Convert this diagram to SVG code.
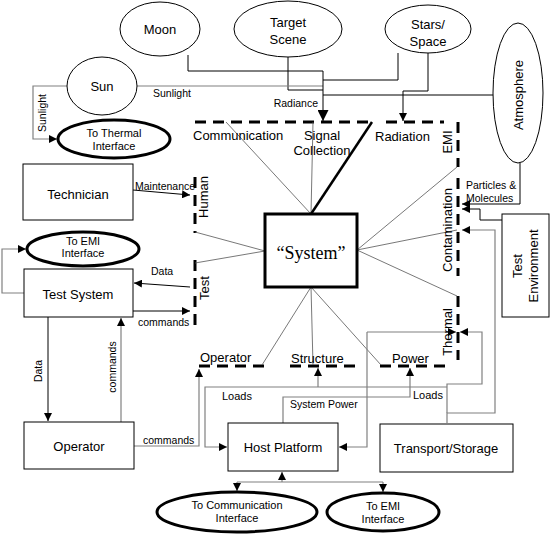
<svg xmlns="http://www.w3.org/2000/svg" width="551" height="534" viewBox="0 0 551 534">
<defs>
<style>
text{font-family:"Liberation Sans",Arial,sans-serif;fill:#000}
.t13{font-size:13px}
.t11{font-size:11px}
.t10{font-size:10.5px}
.m{text-anchor:middle}
.box{fill:#fff;stroke:#000;stroke-width:1}
.ell{fill:#fff;stroke:#000;stroke-width:1}
.tell{fill:#fff;stroke:#000;stroke-width:3}
.ln{fill:none;stroke:#000;stroke-width:1}
.gl{fill:none;stroke:#808080;stroke-width:1.2}
.rad{fill:none;stroke:#555;stroke-width:0.8}
.dash{fill:none;stroke:#000;stroke-width:3;stroke-dasharray:11,7}
</style>
<marker id="a" viewBox="0 0 10 10" refX="10" refY="5" markerWidth="8" markerHeight="8" markerUnits="userSpaceOnUse" orient="auto"><path d="M0,0L10,5L0,10z" fill="#000"/></marker>
<marker id="b" viewBox="0 0 10 10" refX="10" refY="5" markerWidth="11" markerHeight="11" markerUnits="userSpaceOnUse" orient="auto"><path d="M0,0L10,5L0,10z" fill="#000"/></marker>
</defs>
<rect width="551" height="534" fill="#fff"/>

<g id="connectors">
<!-- top sources -->
<path class="ln" d="M188,55V71H323"/>
<path class="ln" d="M398,53V80H323"/>
<path class="ln" d="M288,57V90H323"/>
<path class="ln" d="M493,95H323"/>
<path class="gl" d="M137,86H323"/>
<path class="ln" d="M323,71V121" stroke-width="1.6" marker-end="url(#b)"/>
<path class="ln" d="M428,53V91H403V121" marker-end="url(#a)"/>
<path class="gl" d="M68,86H33V139H57" marker-end="url(#a)"/>
<!-- boundary dashes -->
<path class="dash" d="M195,122H372"/>
<path class="dash" d="M386,122H444"/>
<path class="dash" d="M458,122V167"/>
<path class="dash" d="M458,178V276"/>
<path class="dash" d="M458,296V360"/>
<path class="dash" d="M195,177V233"/>
<path class="dash" d="M195,260V327"/>
<path class="dash" d="M199,366H268"/>
<path class="dash" d="M290,366H358"/>
<path class="dash" d="M380,366H448"/>
<!-- system radial lines -->
<path class="rad" d="M226,122L311,214"/>
<path class="rad" d="M313,122L311,214"/>
<path fill="none" stroke="#000" stroke-width="2.5" d="M372,122L311,214"/>
<path class="rad" d="M357,250L457,167"/>
<path class="rad" d="M357,250L457,230"/>
<path class="rad" d="M357,250L457,296"/>
<path class="rad" d="M265,251L195,232"/>
<path class="rad" d="M265,251L195,263"/>
<path class="rad" d="M311,287L262,365"/>
<path class="rad" d="M311,287L313,365"/>
<path class="rad" d="M311,287L381,365"/>
<!-- left side -->
<path class="ln" d="M133,190L190,195" marker-end="url(#a)"/>
<path class="ln" d="M190,287L134,283" marker-end="url(#a)"/>
<path class="ln" d="M133,311H190" marker-end="url(#a)"/>
<path class="gl" d="M24,293H2V249H26" marker-end="url(#a)"/>
<path class="ln" d="M48,317V421" marker-end="url(#a)"/>
<path class="gl" d="M121,422V318" marker-end="url(#a)"/>
<path class="gl" d="M134,446H199V369" marker-end="url(#a)"/>
<!-- right side -->
<path class="ln" d="M520,163V204H462" marker-end="url(#a)"/>
<path class="ln" d="M502,220H480V209H462" marker-end="url(#a)"/>
<path class="gl" d="M447,423V413H495V230H462" marker-end="url(#a)"/>
<path class="gl" d="M447,413V384H482V332H460" marker-end="url(#a)"/>
<path class="gl" d="M367,332H456" marker-end="url(#a)"/>
<path class="gl" d="M367,332V447H339" marker-end="url(#a)"/>
<!-- loads / power -->
<path class="gl" d="M447,387H205V447H227" marker-end="url(#a)"/>
<path class="gl" d="M318,387V368" marker-end="url(#a)"/>
<path class="gl" d="M283,423V397H410V368" marker-end="url(#a)"/>
<!-- host platform to interfaces -->
<path class="gl" d="M282,482V472" marker-end="url(#a)"/>
<path class="gl" d="M237,482H383"/>
<path class="gl" d="M237,482V491" marker-end="url(#a)"/>
<path class="gl" d="M383,482V492" marker-end="url(#a)"/>
<!-- connector labels -->
<text class="t10" x="153" y="97">Sunlight</text>
<text class="t10 m" transform="translate(46,113) rotate(-90)">Sunlight</text>
<text class="t10" x="318" y="107" text-anchor="end">Radiance</text>
<text class="t10" x="135" y="190">Maintenance</text>
<text class="t10" x="151" y="275">Data</text>
<text class="t10" x="138" y="326">commands</text>
<text class="t10 m" transform="translate(42,371) rotate(-90)">Data</text>
<text class="t10 m" transform="translate(116,367) rotate(-90)">commands</text>
<text class="t10" x="143" y="444">commands</text>
<text class="t11" x="222" y="400">Loads</text>
<text class="t10" x="290" y="408">System Power</text>
<text class="t11" x="413" y="399">Loads</text>
<text class="t10" x="466" y="189">Particles &amp;</text>
<text class="t10" x="466" y="202">Molecules</text>
<!-- boundary labels -->
<text class="t13" x="193" y="140">Communication</text>
<text class="t13 m" x="322" y="140">Signal</text>
<text class="t13 m" x="322" y="155">Collection</text>
<text class="t13" x="375" y="141">Radiation</text>
<text class="t13 m" transform="translate(452,142) rotate(-90)">EMI</text>
<text class="t13 m" transform="translate(452,230) rotate(-90)">Contamination</text>
<text class="t13 m" transform="translate(452,332) rotate(-90)">Thermal</text>
<text class="t13 m" transform="translate(208,197) rotate(-90)">Human</text>
<text class="t13 m" transform="translate(209,288) rotate(-90)">Test</text>
<text class="t13" x="200" y="362">Operator</text>
<text class="t13" x="291" y="363">Structure</text>
<text class="t13" x="392" y="363">Power</text>
</g>

<g id="moon"><ellipse class="ell" cx="160" cy="29" rx="40" ry="27"/><text class="t13 m" x="160" y="34">Moon</text></g>
<g id="target-scene"><ellipse class="ell" cx="288" cy="29" rx="54" ry="28"/><text class="t13 m" x="288" y="27">Target</text><text class="t13 m" x="288" y="44">Scene</text></g>
<g id="stars-space"><ellipse class="ell" cx="428" cy="29" rx="43" ry="24"/><text class="t13 m" x="428" y="29">Stars/</text><text class="t13 m" x="428" y="46">Space</text></g>
<g id="atmosphere"><ellipse class="ell" cx="518" cy="93" rx="25" ry="70"/><text class="t13 m" transform="translate(523,95) rotate(-90)">Atmosphere</text></g>
<g id="sun"><ellipse class="ell" cx="102" cy="86" rx="35" ry="29"/><text class="t13 m" x="102" y="91">Sun</text></g>
<g id="thermal-interface"><ellipse class="tell" cx="114" cy="139" rx="56" ry="19"/><text class="t11 m" x="114" y="137">To Thermal</text><text class="t11 m" x="114" y="150">Interface</text></g>
<g id="technician"><rect class="box" x="23" y="164" width="110" height="56"/><text class="t13 m" x="78" y="199">Technician</text></g>
<g id="emi-interface-left"><ellipse class="tell" cx="83" cy="249" rx="56" ry="17"/><text class="t11 m" x="83" y="245">To EMI</text><text class="t11 m" x="83" y="257">Interface</text></g>
<g id="test-system"><rect class="box" x="24" y="269" width="109" height="48"/><text class="t13 m" x="78" y="299">Test System</text></g>
<g id="system"><rect fill="#fff" stroke="#000" stroke-width="3" x="265" y="214" width="92" height="73"/><text x="311" y="259" text-anchor="middle" style="font-family:'Liberation Serif','Times New Roman',serif;font-size:18px">“System”</text></g>
<g id="test-environment"><rect class="box" x="502" y="214" width="47" height="103"/><text class="t13 m" transform="translate(522,266) rotate(-90)">Test</text><text class="t13 m" transform="translate(538,266) rotate(-90)">Environment</text></g>
<g id="operator"><rect class="box" x="24" y="422" width="110" height="47"/><text class="t13 m" x="79" y="451">Operator</text></g>
<g id="host-platform"><rect class="box" x="228" y="423" width="110" height="48"/><text class="t13 m" x="283" y="452">Host Platform</text></g>
<g id="transport-storage"><rect class="box" x="380" y="424" width="133" height="48"/><text class="t13 m" x="446" y="453">Transport/Storage</text></g>
<g id="comm-interface"><ellipse class="tell" cx="237" cy="512" rx="80" ry="20"/><text class="t11 m" x="237" y="509">To Communication</text><text class="t11 m" x="237" y="522">Interface</text></g>
<g id="emi-interface-bottom"><ellipse class="tell" cx="383" cy="512" rx="56" ry="19"/><text class="t11 m" x="383" y="510">To EMI</text><text class="t11 m" x="383" y="523">Interface</text></g>
</svg>
